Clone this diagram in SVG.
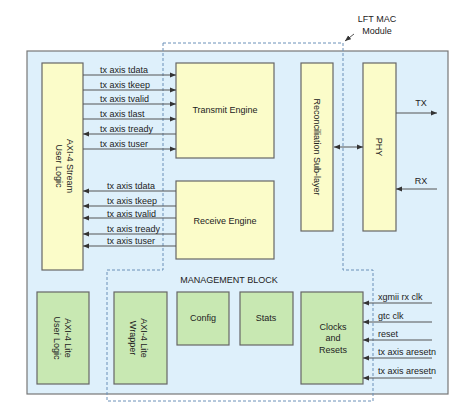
<svg xmlns="http://www.w3.org/2000/svg" width="474" height="418" viewBox="0 0 474 418">
<style>
text{font-family:"Liberation Sans",Arial,sans-serif;font-size:9px;fill:#222}
.y{fill:#fbfcc9;stroke:#666;stroke-width:1.2}
.g{fill:#c8e8b2;stroke:#666;stroke-width:1.2}
.ln{stroke:#555;stroke-width:1;fill:none;marker-end:url(#ah)}
.dash{fill:none;stroke:#6b90b8;stroke-width:1;stroke-dasharray:3,2}
.c{text-anchor:middle}
</style>
<defs>
<marker id="ah" markerWidth="6" markerHeight="6" refX="6" refY="3" orient="auto-start-reverse" markerUnits="userSpaceOnUse">
<path d="M0,0.5 L6,3 L0,5.5 z" fill="#333"/>
</marker>
</defs>
<rect width="474" height="418" fill="#fff"/>
<rect id="module-bg" x="27" y="51" width="421" height="343" fill="#def0fb" stroke="#777" stroke-width="1.2"/>

<g id="lft-mac">
<path class="dash" d="M163,43 H343 V270 H373 V401 H107 V270 H163 Z"/>
<text class="c" x="377" y="22">LFT MAC</text>
<text class="c" x="377" y="34">Module</text>
</g>

<g id="axi-stream">
<rect class="y" x="42" y="63" width="41" height="207"/>
<text class="c" transform="translate(67,166) rotate(90)">AXI-4 Stream</text>
<text class="c" transform="translate(56,166) rotate(90)">User Logic</text>
</g>
<g id="transmit">
<rect class="y" x="176" y="63" width="98" height="95"/>
<text class="c" x="225" y="113">Transmit Engine</text>
</g>
<g id="receive">
<rect class="y" x="176" y="181" width="98" height="78"/>
<text class="c" x="225" y="224">Receive Engine</text>
</g>
<g id="recon">
<rect class="y" x="301" y="63" width="32" height="168"/>
<text class="c" transform="translate(314,147) rotate(90)">Reconciliation Sub-layer</text>
</g>
<g id="phy">
<rect class="y" x="363" y="63" width="33" height="168"/>
<text class="c" transform="translate(376,147) rotate(90)">PHY</text>
</g>

<text id="mgmt-label" class="c" x="229" y="283">MANAGEMENT BLOCK</text>
<g id="axi-lite-user">
<rect class="g" x="37" y="292" width="52" height="92"/>
<text class="c" transform="translate(65,338) rotate(90)">AXI-4 Lite</text>
<text class="c" transform="translate(54,338) rotate(90)">User Logic</text>
</g>
<g id="axi-lite-wrapper">
<rect class="g" x="114" y="292" width="53" height="92"/>
<text class="c" transform="translate(141,338) rotate(90)">AXI-4 Lite</text>
<text class="c" transform="translate(130,338) rotate(90)">Wrapper</text>
</g>
<g id="config">
<rect class="g" x="177" y="292" width="52" height="53"/>
<text class="c" x="203" y="321">Config</text>
</g>
<g id="stats">
<rect class="g" x="240" y="292" width="53" height="53"/>
<text class="c" x="266" y="321">Stats</text>
</g>
<g id="clocks">
<rect class="g" x="301" y="292" width="62" height="92"/>
<text class="c" x="333" y="330">Clocks</text>
<text class="c" x="333" y="341">and</text>
<text class="c" x="333" y="353">Resets</text>
</g>

<g id="connectors">
<line class="ln" x1="83" y1="75" x2="176" y2="75"/>
<line class="ln" x1="83" y1="90" x2="176" y2="90"/>
<line class="ln" x1="83" y1="104" x2="176" y2="104"/>
<line class="ln" x1="83" y1="119" x2="176" y2="119"/>
<line class="ln" x1="176" y1="134" x2="83" y2="134"/>
<line class="ln" x1="83" y1="149" x2="176" y2="149"/>
<line class="ln" x1="176" y1="191" x2="83" y2="191"/>
<line class="ln" x1="176" y1="206" x2="83" y2="206"/>
<line class="ln" x1="176" y1="218" x2="83" y2="218"/>
<line class="ln" x1="176" y1="234" x2="83" y2="234"/>
<line class="ln" x1="176" y1="246" x2="83" y2="246"/>
<line class="ln" x1="334" y1="147" x2="363" y2="147" style="marker-start:url(#ah)"/>
<line class="ln" x1="396" y1="113" x2="437" y2="113"/>
<line class="ln" x1="437" y1="189" x2="396" y2="189"/>
<line class="ln" x1="432" y1="303" x2="363" y2="303"/>
<line class="ln" x1="432" y1="322" x2="363" y2="322"/>
<line class="ln" x1="432" y1="340" x2="363" y2="340"/>
<line class="ln" x1="432" y1="358" x2="363" y2="358"/>
<line class="ln" x1="432" y1="378" x2="363" y2="378"/>
<line class="ln" x1="354" y1="34" x2="345" y2="41"/>
</g>

<g id="labels">
<text x="100" y="73">tx axis tdata</text>
<text x="100" y="88">tx axis tkeep</text>
<text x="100" y="102">tx axis tvalid</text>
<text x="100" y="117">tx axis tlast</text>
<text x="100" y="132">tx axis tready</text>
<text x="100" y="147">tx axis tuser</text>
<text x="107" y="189">tx axis tdata</text>
<text x="107" y="204">tx axis tkeep</text>
<text x="107" y="217">tx axis tvalid</text>
<text x="107" y="232">tx axis tready</text>
<text x="107" y="244">tx axis tuser</text>
<text class="c" x="421" y="106">TX</text>
<text class="c" x="421" y="184">RX</text>
<text x="378" y="300">xgmii rx clk</text>
<text x="378" y="319">gtc clk</text>
<text x="378" y="337">reset</text>
<text x="378" y="355">tx axis aresetn</text>
<text x="378" y="374">tx axis aresetn</text>
</g>
</svg>
